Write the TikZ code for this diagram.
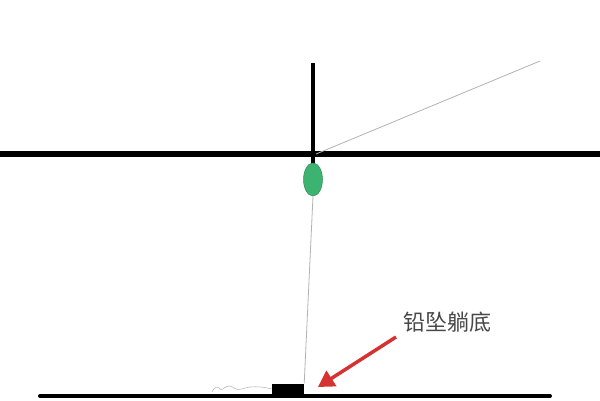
\documentclass[tikz,border=0pt]{standalone}
\usepackage{fontspec}
\newfontfamily\cjk{Noto Sans CJK SC}
\usetikzlibrary{shapes.geometric,arrows.meta}
\definecolor{floatgreen}{RGB}{60,179,113}
\definecolor{arrowred}{RGB}{215,50,50}
\begin{document}
\begin{tikzpicture}[x=1pt,y=-1pt,
  thickline/.style={line width=5.5pt},
  bottomline/.style={line width=4pt, line cap=round},
  stickline/.style={line width=4pt},
  fishline/.style={draw=gray!60, line width=0.8pt},
  floatbody/.style={ellipse, fill=floatgreen, draw=floatgreen!80!black, line width=0.5pt, minimum width=19pt, minimum height=33pt, inner sep=0pt},
  sinker/.style={rectangle, fill=black, minimum width=32pt, minimum height=11pt, inner sep=0pt},
  labeltext/.style={font=\cjk\fontsize{22pt}{24pt}\selectfont, text=black!72},
  redarrow/.style={draw=arrowred, line width=3.5pt, -{Triangle[length=16pt,width=18pt]}}
]
\useasboundingbox (0,0) rectangle (600,400);
% water surface
\coordinate (wl) at (0,154);
\coordinate (wr) at (600,154);
\draw[thickline] (wl) -- (wr);
% rod line
\coordinate (rodend) at (540,61);
\coordinate (linetop) at (316,154);
\draw[fishline] (linetop) -- (rodend);
% float stick
\coordinate (sticktop) at (313,63);
\coordinate (stickbot) at (313,166);
\draw[stickline] (sticktop) -- (stickbot);
% float body
\node[floatbody] (float) at (313,179.5) {};
% bottom
\coordinate (bl) at (40,396);
\coordinate (br) at (550,396);
\draw[bottomline] (bl) -- (br);
% sinker
\node[sinker] (sink) at (288,389) {};
% line down to sinker
\draw[fishline] (float.south) -- (sink.north east);
% loose line squiggle
\coordinate (sq0) at (212,392);
\draw[draw=gray!55, line width=0.6pt] (sq0) .. controls (214,386) and (219,386) .. (220,389)
  .. controls (221,392) and (226,385) .. (230,386)
  .. controls (234,387) and (236,391) .. (242,389)
  .. controls (250,386) and (260,386) .. (sink.west);
% label and arrow
\node[labeltext] (lbl) at (447,322) {铅坠躺底};
\coordinate (arrtail) at (396,337);
\coordinate (arrtip) at (318,387);
\draw[redarrow] (arrtail) -- (arrtip);
\end{tikzpicture}
\end{document}
